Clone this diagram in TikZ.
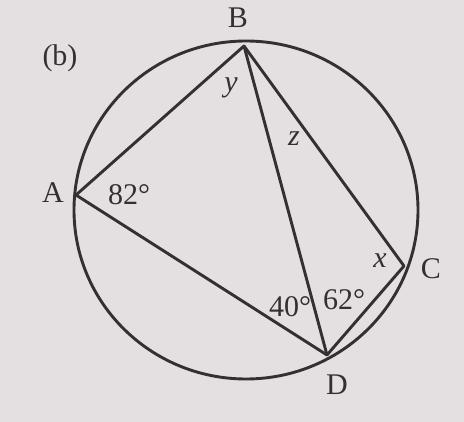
\documentclass[tikz,border=0pt]{standalone}
\usepackage{fontspec}
\setmainfont{Liberation Serif}
\definecolor{paper}{RGB}{228,223,224}
\definecolor{ink}{RGB}{52,48,50}
\begin{document}
\begin{tikzpicture}[x=1pt,y=-1pt,
  geo/.style={draw=ink,line width=2.9pt,line join=round},
  lbl/.style={text=ink,font=\fontsize{30}{30}\selectfont,inner sep=0pt},
  sym/.style={text=ink,font=\fontsize{30}{30}\selectfont\itshape,inner sep=0pt}]
\fill[paper] (0,0) rectangle (464,422);
\useasboundingbox (0,0) rectangle (464,422);
\coordinate (A) at (76,195);
\coordinate (B) at (244,46);
\coordinate (C) at (404,266);
\coordinate (D) at (327,355);
\draw[geo] (246,210) ellipse [x radius=172, y radius=169];
\draw[geo] (A) -- (B) -- (C) -- (D) -- cycle;
\draw[geo] (B) -- (D);
\node[lbl] (lb) at (60,58) {(b)};
\node[lbl] (lA) at (53,193) {A};
\node[lbl] (lB) at (238,18) {B};
\node[lbl] (lC) at (431,269) {C};
\node[lbl] (lD) at (337,385) {D};
\node[lbl] (a82) at (129,195) {82°};
\node[lbl] (a40) at (290,307) {40°};
\node[lbl] (a62) at (344,300) {62°};
\node[sym] (vy) at (231,88) {y};
\node[sym] (vz) at (294,139) {z};
\node[sym] (vx) at (380,261) {x};
\end{tikzpicture}
\end{document}
